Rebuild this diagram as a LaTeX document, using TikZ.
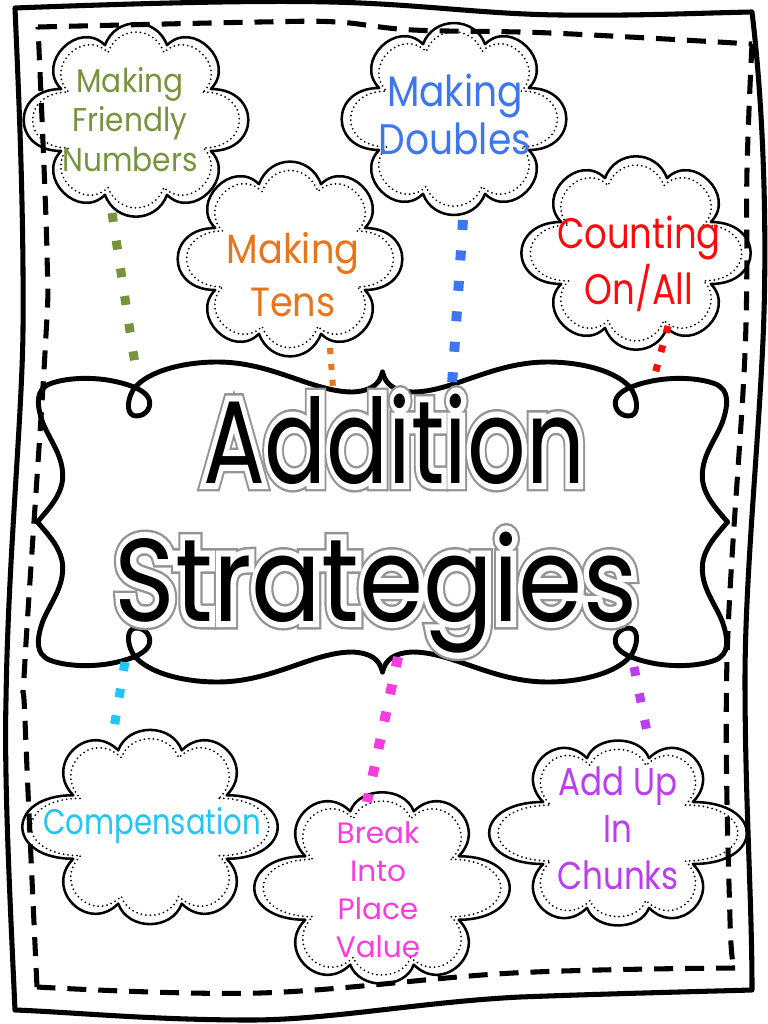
\documentclass[tikz,border=0pt]{standalone}
\usepackage{fontspec}
\setmainfont{Poppins}
\newfontfamily\haloout[FakeBold=14.4]{Poppins}
\newfontfamily\haloin[FakeBold=10.2]{Poppins}
\usepackage{graphicx}

\definecolor{friendlygreen}{RGB}{119,147,60}
\definecolor{doublesblue}{RGB}{62,118,240}
\definecolor{tensorange}{RGB}{232,116,28}
\definecolor{countingred}{RGB}{250,12,12}
\definecolor{compcyan}{RGB}{32,198,245}
\definecolor{breakpink}{RGB}{250,60,222}
\definecolor{chunkpurple}{RGB}{186,62,240}

\newlength{\px}
\setlength{\px}{0.025cm}

\newcommand{\squeeze}[2]{\scalebox{#1}[1]{\begin{tabular}{@{}c@{}}#2\end{tabular}}}
\newcommand{\titleA}{\resizebox{382\px}{\height}{Addition}}
\newcommand{\titleB}{\resizebox{522\px}{\height}{Strategies}}

\newcommand{\flower}[5]{%
  \begin{scope}[shift={#1}]
    \draw[petal] (-22.5:#2) \foreach \a/\h/\s in {0/#3/0,45/#4/0,90/#5/20,135/#4/0,180/#3/0,225/#4/0,270/#5/20,315/#4/0} { .. controls +(\a+\s:\h) and +(\a-\s:\h) .. (\a+22.5:#2) } -- cycle;
    \draw[petaldots] (-22.5:{#2-8}) \foreach \a/\h/\s in {0/#3/0,45/#4/0,90/#5/20,135/#4/0,180/#3/0,225/#4/0,270/#5/20,315/#4/0} { .. controls +(\a+\s:{\h-2}) and +(\a-\s:{\h-2}) .. (\a+22.5:{#2-8}) } -- cycle;
  \end{scope}}

\tikzset{
  sheet/.style={line width=3.6pt, line join=round},
  dashborder/.style={line width=3.6pt, dash pattern=on 13.5pt off 8.5pt},
  frame/.style={line width=3.5pt, line cap=round},
  petal/.style={line width=1.8pt, line join=round},
  petaldots/.style={line width=1.4pt, line cap=round, dash pattern=on 0pt off 3.2pt},
  label/.style={align=center, inner sep=0pt},
  titletext/.style={anchor=base, inner sep=0pt, font=\fontsize{83.6}{90}\selectfont},
  link/.style n args={3}{draw=#1, line width=#2, dash pattern=on #2 off #3}
}

\begin{document}
\begin{tikzpicture}[x=0.025cm, y=-0.025cm]
\useasboundingbox (0,0) rectangle (768,1024);

\draw[sheet] (15,8) .. controls (120,4) and (250,0) .. (330,2) .. controls (420,4) and (480,14) .. (560,15) .. controls (640,16) and (700,13) .. (752,12)
  .. controls (765,120) and (767,250) .. (763,340) .. controls (758,450) and (745,580) .. (745,680) .. controls (745,800) and (752,900) .. (752,990)
  .. controls (680,992) and (600,994) .. (520,997) .. controls (420,1002) and (330,1020) .. (250,1020) .. controls (150,1020) and (70,1012) .. (15,1010)
  .. controls (10,900) and (4,780) .. (6,700) .. controls (8,560) and (22,420) .. (23,330) .. controls (24,200) and (18,80) .. cycle;

\draw[dashborder] plot[smooth, tension=0.6] coordinates {(38,27) (260,22) (337,22) (413,30) (550,33) (752,44)};
\draw[dashborder] plot[smooth, tension=0.6] coordinates {(752,44) (747,170) (745,353) (727,660) (730,920) (735,968)};
\draw[dashborder] plot[smooth, tension=0.6] coordinates {(735,968) (513,973) (260,993) (37,987)};
\draw[dashborder] plot[smooth, tension=0.6] coordinates {(37,987) (25,720) (25,660) (45,353) (47,253) (38,27)};

\begin{scope}[shift={(382.5,522)}]
  \foreach \sx/\sy in {1/1,-1/1,1/-1,-1/-1}
    \draw[frame, xscale=\sx, yscale=\sy] (0,-150) .. controls (-3,-137) and (-12,-131) .. (-30,-130)
      .. controls (-70,-130) and (-110,-160) .. (-165,-160)
      .. controls (-205,-160) and (-240,-148) .. (-250,-131)
      .. controls (-256,-120) and (-256,-106) .. (-246,-106)
      .. controls (-236,-106) and (-230,-116) .. (-234,-124)
      .. controls (-238,-132) and (-252,-137) .. (-265,-140)
      .. controls (-290,-146) and (-318,-144) .. (-333,-138)
      .. controls (-347,-132) and (-346,-118) .. (-340,-100)
      .. controls (-332,-80) and (-318,-65) .. (-320,-42)
      .. controls (-322,-25) and (-335,-12) .. (-345,0);
\end{scope}

\node[titletext, text=black!42] at (394,483) {\haloout\titleA};
\node[titletext, text=black!42] at (376,621) {\haloout\titleB};
\node[titletext, text=white] at (394,483) {\haloin\titleA};
\node[titletext, text=white] at (376,621) {\haloin\titleB};
\node[titletext] (addition) at (394,483) {\titleA};
\node[titletext] (strategies) at (376,621) {\titleB};

\flower{(136,120)}{81}{50}{37}{31}
\flower{(454,119)}{81}{50}{37}{30}
\flower{(290,259)}{81}{50}{37}{32}
\flower{(636,253)}{81}{53}{37}{31}
\flower{(150,827)}{83}{68}{43}{29}
\flower{(382,888)}{83}{68}{43}{27}
\flower{(618,833)}{81}{72}{43}{25}

\node[label, text=friendlygreen, font=\fontsize{23.4}{28.3}\selectfont] (friendly) at (130,124) {\squeeze{0.9}{Making\\Friendly\\Numbers}};
\node[label, text=doublesblue, font=\fontsize{30.4}{34}\selectfont] (doubles) at (455,121) {\squeeze{0.88}{Making\\Doubles}};
\node[label, text=tensorange, font=\fontsize{29}{37.6}\selectfont] (tens) at (293,279) {\squeeze{0.9}{Making\\Tens}};
\node[label, text=countingred, font=\fontsize{30.4}{37.6}\selectfont] (counting) at (639,266) {\squeeze{0.83}{Counting\\On/All}};
\node[label, text=compcyan, font=\fontsize{25.3}{30}\selectfont] (compensation) at (152,826) {\squeeze{0.82}{Compensation}};
\node[label, text=breakpink, font=\fontsize{21}{27.1}\selectfont] (break) at (378,893) {\squeeze{1}{Break\\Into\\Place\\Value}};
\node[label, text=chunkpurple, font=\fontsize{27.6}{33.6}\selectfont] (chunks) at (618,833) {\squeeze{0.84}{Add Up\\In\\Chunks}};

\coordinate (friendly-foot) at (112,213);
\coordinate (banner-nw) at (135,364);
\coordinate (doubles-foot) at (463,220);
\coordinate (banner-n) at (452,385);
\coordinate (tens-foot) at (330,348);
\coordinate (banner-nnw) at (333,388);
\coordinate (counting-foot) at (668,326);
\coordinate (banner-ne) at (655,374);
\coordinate (banner-sw) at (125,662);
\coordinate (comp-top) at (114,728);
\coordinate (banner-s) at (398,657);
\coordinate (break-top) at (367,802);
\coordinate (banner-se) at (634,667);
\coordinate (chunks-top) at (649,742);

\draw[link={friendlygreen}{6.4pt}{13.5pt}] (friendly-foot) -- (banner-nw);
\draw[link={doublesblue}{7.1pt}{14.6pt}] (doubles-foot) -- (banner-n);
\draw[link={tensorange}{4.3pt}{7pt}] (tens-foot) -- (banner-nnw);
\draw[link={countingred}{5pt}{9.2pt}] (counting-foot) -- (banner-ne);
\draw[link={compcyan}{6.4pt}{12.8pt}] (banner-sw) -- (comp-top);
\draw[link={breakpink}{7.1pt}{12.8pt}] (banner-s) -- (break-top);
\draw[link={chunkpurple}{6.4pt}{12.8pt}] (banner-se) -- (chunks-top);
\end{tikzpicture}
\end{document}
